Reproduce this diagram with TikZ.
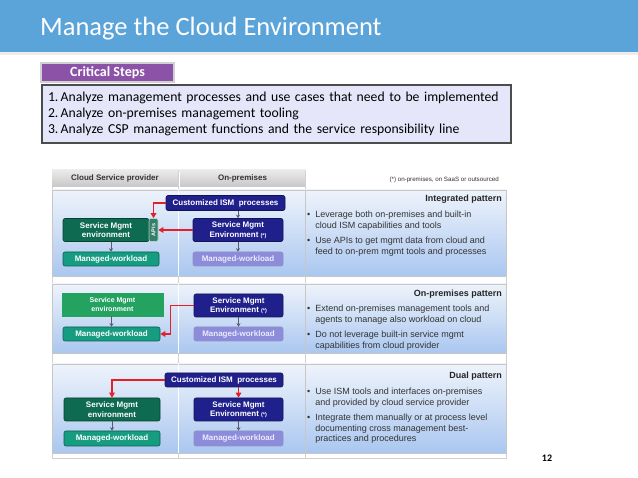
\documentclass[tikz,border=0pt]{standalone}
\usepackage{fontspec}
\usepackage{graphicx}
\setmainfont{Carlito}
\newfontfamily\arialfont{Liberation Sans}
\usetikzlibrary{arrows.meta}

\definecolor{titleblue}{RGB}{91,164,218}
\definecolor{stepviolet}{RGB}{140,82,168}
\definecolor{steplilac}{RGB}{230,230,250}
\definecolor{ismnavy}{RGB}{32,32,140}
\definecolor{cspgreen}{RGB}{14,106,80}
\definecolor{cspbright}{RGB}{36,162,96}
\definecolor{loadteal}{RGB}{22,156,128}
\definecolor{loadlilac}{RGB}{140,140,218}
\definecolor{linkred}{RGB}{230,30,40}
\definecolor{flowgray}{RGB}{90,90,110}
\definecolor{paneltop}{RGB}{238,243,251}
\definecolor{panelblue}{RGB}{170,199,240}

\begin{document}
\begin{tikzpicture}[x=1pt, y=-1pt,
  box node/.style={rectangle, rounded corners=2pt, draw, line width=0.6pt, inner sep=0pt, align=center,
                   text=white, font=\arialfont\bfseries\fontsize{8}{9.5}\selectfont},
  ism node/.style={box node, fill=ismnavy, draw=ismnavy!60!black, minimum width=119, minimum height=15},
  prem node/.style={box node, fill=ismnavy, draw=ismnavy!60!black, minimum width=90, minimum height=23},
  cloud node/.style={box node, fill=cspgreen, draw=cspgreen!60!black, minimum width=96, minimum height=23},
  load node/.style={box node, fill=loadteal, draw=loadteal!60!black, minimum width=96, minimum height=14},
  premload node/.style={box node, fill=loadlilac, draw=ismnavy!50, text=white!92!blue, minimum width=90, minimum height=14},
  head node/.style={inner sep=0pt, top color=black!8, bottom color=black!22, minimum height=17,
                    text=black!80, font=\arialfont\bfseries\fontsize{8}{9}\selectfont},
  pattern node/.style={anchor=east, inner sep=0pt, text=black!85, font=\arialfont\bfseries\fontsize{9}{10.5}\selectfont},
  bullet node/.style={anchor=north west, inner sep=0pt, text=black!80, font=\arialfont\fontsize{9}{10.8}\selectfont},
  panel/.style={top color=paneltop, bottom color=panelblue, draw=black!22, line width=0.5pt},
  red link/.style={draw=linkred, line width=1.4pt, -{Triangle[length=5pt,width=5.5pt]}},
  gray link/.style={draw=flowgray, line width=0.9pt, -{Stealth[length=3.5pt,width=4pt]}}]

  \useasboundingbox (0,0) rectangle (638,478);

  % title bar
  \fill[titleblue] (0,0) rectangle (638,52);
  \fill[black!7] (0,52) rectangle (638,55);
  \node[anchor=base west, inner sep=0pt, text=white, font=\fontsize{26.5}{30}\selectfont] (title) at (40,36) {Manage the Cloud Environment};

  % critical steps
  \node[fill=stepviolet, draw=black!18, line width=1.5pt, minimum width=133, minimum height=19, inner sep=0pt,
        text=white, font=\bfseries\fontsize{14}{16}\selectfont] (tab) at (107.5,72.5) {Critical Steps};
  \node[fill=steplilac, draw=black!70, line width=1.2pt, text width=457, minimum height=58, inner xsep=6pt,
        align=left, font=\fontsize{13.7}{16}\selectfont] (steps) at (276.5,114)
       {1.\,Analyze management processes and use cases that need to be implemented\\
        2.\,Analyze on-premises management tooling\\
        3.\,Analyze CSP management functions and the service responsibility line};

  % table frame and header
  \draw[black!18, line width=0.5pt] (305,170) -- (52,170) -- (52,458) -- (506,458) -- (506,190);
  \draw[black!18, line width=0.5pt] (178,170) -- (178,458);
  \draw[black!18, line width=0.5pt] (305,170) -- (305,458);
  \node[head node, minimum width=126] (hd1) at (115,178.5) {Cloud Service provider};
  \node[head node, minimum width=125] (hd2) at (242.5,178.5) {On-premises};
  \node[anchor=east, inner sep=0pt, text=black!80, font=\arialfont\fontsize{6.2}{7}\selectfont] (note) at (499,180)
       {(*) on-premises, on SaaS or outsourced};

  % pattern panels
  \shade[panel] (52,190) rectangle (506,276);
  \shade[panel] (52,284) rectangle (506,353);
  \shade[panel] (52,364) rectangle (506,453);
  \draw[white, line width=0.8pt] (178,190) -- (178,276) (178,284) -- (178,353) (178,364) -- (178,453);
  \draw[black!22, line width=0.5pt] (305,190) -- (305,276) (305,284) -- (305,353) (305,364) -- (305,453);

  % integrated pattern
  \node[ism node] (ism1) at (225.5,203) {Customized ISM~ processes};
  \node[cloud node, minimum width=86] (cl1) at (106,230) {Service Mgmt\\environment};
  \node[box node, fill=cspgreen!85!white, draw=white!70!cspgreen, minimum width=9, minimum height=23,
        font=\arialfont\bfseries\fontsize{5.5}{6}\selectfont] (api1) at (153.5,230) {\rotatebox{90}{APIs}};
  \node[prem node] (op1) at (238,230) {Service Mgmt\\Environment {\fontsize{5.5}{6}\selectfont(*)}};
  \node[load node] (wc1) at (111,259) {Managed-workload};
  \node[premload node] (wo1) at (238,259) {Managed-workload};

  \node[pattern node] (t1) at (502,199) {Integrated pattern};
  \node[bullet node] (b1) at (307,209.5) {\begin{tabular}{@{}l@{\hspace{5pt}}l@{}}
    \textbullet & Leverage both on-premises and built-in\\
                & cloud ISM capabilities and tools\\[4.5pt]
    \textbullet & Use APIs to get mgmt data from cloud and\\
                & feed to on-prem mgmt tools and processes
  \end{tabular}};

  \draw[red link] (ism1.west) -| (api1.north);
  \draw[red link] (op1.west) -- (api1.east);
  \draw[gray link] (ism1.south -| op1.north) -- (op1.north);
  \draw[gray link] (cl1.south -| wc1.north) -- (wc1.north);
  \draw[gray link] (op1) -- (wo1);

  % on-premises pattern
  \node[box node, rounded corners=0pt, fill=cspbright, draw=cspbright, minimum width=101, minimum height=23,
        font=\arialfont\bfseries\fontsize{7}{8.5}\selectfont] (cl2) at (112.5,304.5) {Service Mgmt\\environment};
  \node[prem node, minimum width=89] (op2) at (238.5,305.5) {Service Mgmt\\Environment {\fontsize{5.5}{6}\selectfont(*)}};
  \node[load node, minimum width=97] (wc2) at (111.5,334) {Managed-workload};
  \node[premload node, minimum width=89] (wo2) at (238.5,334) {Managed-workload};

  \node[pattern node] (t2) at (502,294) {On-premises pattern};
  \node[bullet node] (b2) at (307,303.5) {\begin{tabular}{@{}l@{\hspace{5pt}}l@{}}
    \textbullet & Extend on-premises management tools and\\
                & agents to manage also workload on cloud\\[4.5pt]
    \textbullet & Do not leverage built-in service mgmt\\
                & capabilities from cloud provider
  \end{tabular}};

  \draw[red link] (op2.west) -- ++(-23,0) |- (wc2.east);
  \draw[gray link] (cl2.south -| wc2.north) -- (wc2.north);
  \draw[gray link] (op2) -- (wo2);

  % dual pattern
  \node[ism node, minimum width=118, minimum height=14] (ism3) at (224,380) {Customized ISM~ processes};
  \node[cloud node] (cl3) at (112,409.5) {Service Mgmt\\environment};
  \node[prem node, minimum width=89] (op3) at (238.5,409.5) {Service Mgmt\\Environment {\fontsize{5.5}{6}\selectfont(*)}};
  \node[load node, minimum height=15] (wc3) at (112,438.5) {Managed-workload};
  \node[premload node, minimum width=89, minimum height=15] (wo3) at (238.5,438.5) {Managed-workload};

  \node[pattern node] (t3) at (502,376) {Dual pattern};
  \node[bullet node] (b3) at (307,386.5) {\begin{tabular}{@{}l@{\hspace{5pt}}l@{}}
    \textbullet & Use ISM tools and interfaces on-premises\\
                & and provided by cloud service provider\\[4.5pt]
    \textbullet & Integrate them manually or at process level\\
                & documenting cross management best-\\
                & practices and procedures
  \end{tabular}};

  \draw[red link] (ism3.west) -| (cl3.north);
  \draw[red link] (ism3.south -| op3.north) -- (op3.north);
  \draw[gray link] (cl3) -- (wc3);
  \draw[gray link] (op3) -- (wo3);

  % page number
  \node[inner sep=0pt, font=\bfseries\fontsize{10}{12}\selectfont] (page) at (547,458) {12};

\end{tikzpicture}
\end{document}
